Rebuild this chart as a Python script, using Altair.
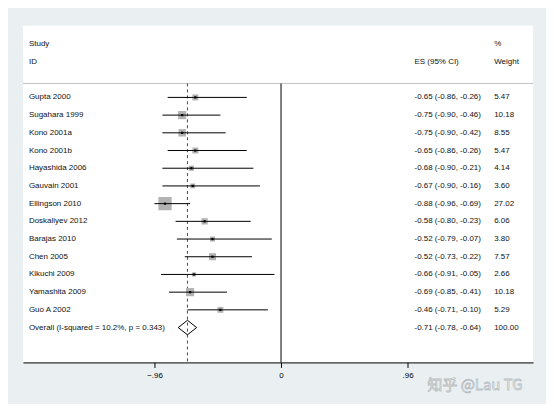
import altair as alt
import pandas as pd

studies = ["Gupta 2000", "Sugahara 1999", "Kono 2001a", "Kono 2001b", "Hayashida 2006",
           "Gauvain 2001", "Ellingson 2010", "Doskaliyev 2012", "Barajas 2010", "Chen 2005",
           "Kikuchi 2009", "Yamashita 2009", "Guo A 2002"]
es = [-0.65, -0.75, -0.75, -0.65, -0.68, -0.67, -0.88, -0.58, -0.52, -0.52, -0.66, -0.69, -0.46]
lo = [-0.86, -0.90, -0.90, -0.86, -0.90, -0.90, -0.96, -0.80, -0.79, -0.73, -0.91, -0.85, -0.71]
hi = [-0.26, -0.46, -0.42, -0.26, -0.21, -0.16, -0.69, -0.23, -0.07, -0.22, -0.05, -0.41, -0.10]
weights = [5.47, 10.18, 8.55, 5.47, 4.14, 3.60, 27.02, 6.06, 3.80, 7.57, 2.66, 10.18, 5.29]

overall_label = "Overall  (I-squared = 10.2%, p = 0.343)"
overall_es, overall_lo, overall_hi, overall_w = -0.71, -0.78, -0.64, 100.00
tick_values = [-0.96, 0, 0.96]

W, H = 512, 338
FONT = "Liberation Sans"

rows = pd.DataFrame({
    "study": studies, "es": es, "lo": lo, "hi": hi, "w": weights,
    "row": list(range(len(studies))),
})
rows["es_txt"] = [f"{e:.2f} ({l:.2f}, {h:.2f})" for e, l, h in zip(es, lo, hi)]
rows["w_txt"] = [f"{w:.2f}" for w in weights]

n = len(studies)
text_rows = pd.DataFrame({
    "label": studies + [overall_label],
    "es_txt": list(rows["es_txt"]) + [f"{overall_es:.2f} ({overall_lo:.2f}, {overall_hi:.2f})"],
    "w_txt": list(rows["w_txt"]) + [f"{overall_w:.2f}"],
    "row": list(range(n + 1)),
})

diamond = pd.DataFrame({
    "x": [overall_lo, overall_es, overall_hi, overall_es, overall_lo],
    "y": [n, n - 0.41, n, n + 0.41, n],
    "o": [0, 1, 2, 3, 4],
})

xscale = alt.Scale(domain=[-1.958, 1.912], nice=False, zero=False)
yscale = alt.Scale(domain=[-4.052, 14.969], reverse=True, nice=False, zero=False)

xaxis = alt.Axis(values=tick_values, title=None, grid=False, domainColor="black",
                 tickColor="black", tickSize=5, labelFontSize=8, labelFont=FONT,
                 labelColor="black", labelPadding=4,
                 labelExpr="datum.value == 0 ? '0' : replace(format(datum.value, '.2f'), '0.', '.')")

base = alt.Chart(rows)

boxes = base.mark_square(color="#b2b2b2", opacity=1).encode(
    x=alt.X("es:Q", scale=xscale, axis=xaxis),
    y=alt.Y("row:Q", scale=yscale, axis=None),
    size=alt.Size("w:Q", scale=alt.Scale(type="linear", domain=[0, 27.02], range=[0, 177]), legend=None),
)

ci = base.mark_rule(color="black", strokeWidth=1).encode(
    x=alt.X("lo:Q", scale=xscale), x2="hi:Q",
    y=alt.Y("row:Q", scale=yscale),
)

dots = base.mark_square(color="black", size=5, opacity=1).encode(
    x=alt.X("es:Q", scale=xscale),
    y=alt.Y("row:Q", scale=yscale),
)

vlines = alt.Chart(pd.DataFrame({"x": [0]})).mark_rule(color="black", strokeWidth=1).encode(
    x=alt.X("x:Q", scale=xscale), y=alt.value(58), y2=alt.value(H))

overall_line = alt.Chart(pd.DataFrame({"x": [overall_es]})).mark_rule(
    color="#5a4040", strokeWidth=1, strokeDash=[3, 3]).encode(
    x=alt.X("x:Q", scale=xscale), y=alt.value(58), y2=alt.value(H))

sep = alt.Chart(pd.DataFrame({"a": [0]})).mark_rule(color="#c4c4c4", strokeWidth=1).encode(
    x=alt.value(0), x2=alt.value(W), y=alt.value(58))

dia = alt.Chart(diamond).mark_line(color="black", strokeWidth=1).encode(
    x=alt.X("x:Q", scale=xscale), y=alt.Y("y:Q", scale=yscale), order="o:Q")

txt_kw = dict(fontSize=8, font=FONT, color="#111111", align="left", baseline="middle")
study_txt = alt.Chart(text_rows).mark_text(**txt_kw).encode(
    x=alt.value(6), y=alt.Y("row:Q", scale=yscale), text="label:N")
es_txt = alt.Chart(text_rows).mark_text(**txt_kw).encode(
    x=alt.value(393), y=alt.Y("row:Q", scale=yscale), text="es_txt:N")
w_txt = alt.Chart(text_rows).mark_text(**txt_kw).encode(
    x=alt.value(473), y=alt.Y("row:Q", scale=yscale), text="w_txt:N")

headers = pd.DataFrame({
    "t": ["Study", "ID", "ES (95% CI)", "%", "Weight"],
    "px": [6, 6, 393, 473, 473],
    "py": [18, 36, 36, 18, 36],
})
head_txt = alt.Chart(headers).mark_text(**txt_kw).encode(
    x=alt.X("px:Q", scale=None), y=alt.Y("py:Q", scale=None), text="t:N")

wm = alt.Chart(pd.DataFrame({"t": ["知乎 @Lau TG"]})).mark_text(
    fontSize=15, font="Noto Sans CJK SC", color="white", stroke="#b8bec2", strokeWidth=0.8,
    align="left", baseline="middle").encode(
    x=alt.value(406), y=alt.value(361), text="t:N")

chart = alt.layer(sep, vlines, overall_line, boxes, ci, dots, dia,
                  study_txt, es_txt, w_txt, head_txt, wm).resolve_scale(
    x="shared", y="shared").properties(
    width=W, height=H,
    autosize=alt.AutoSizeParams(type="none"),
    padding={"left": 15, "top": 17, "right": 13, "bottom": 41},
    background="#eaf0f2",
).configure_view(stroke=None, fill="white")

chart.save("out.html", embed_options={"renderer": "svg", "actions": False})
